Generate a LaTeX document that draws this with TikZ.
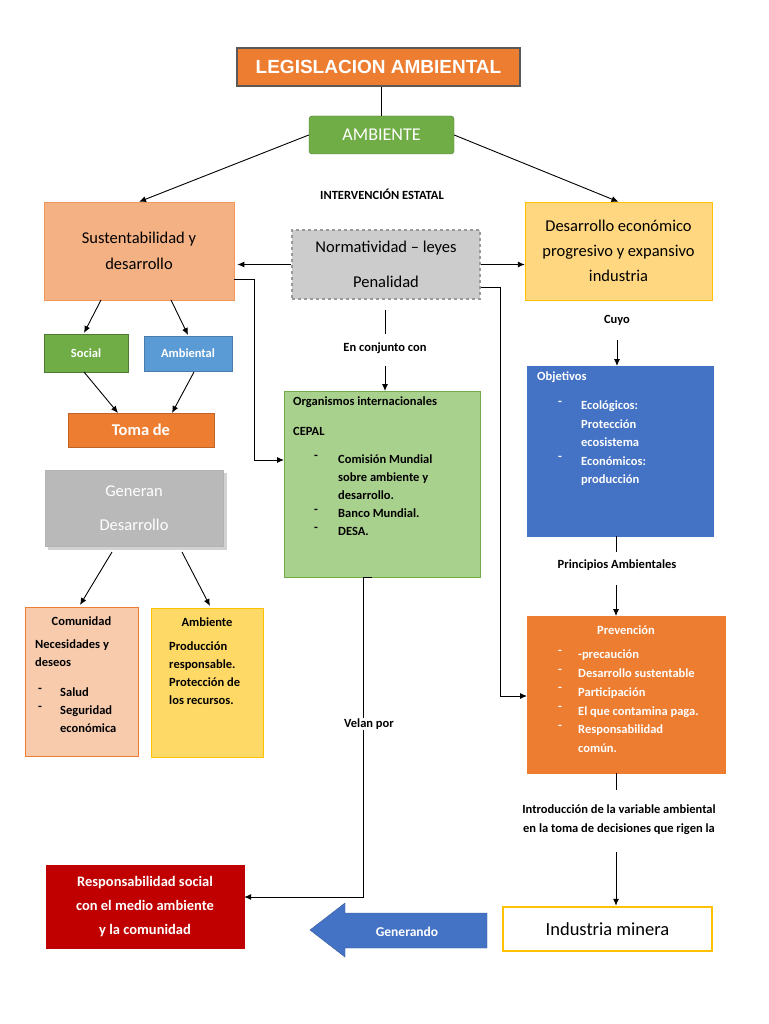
\documentclass[tikz,border=0pt]{standalone}
\usepackage{fontspec}
\setmainfont{Carlito}
\newfontfamily\arialf{Liberation Sans}
\usetikzlibrary{arrows.meta}
\definecolor{org}{HTML}{ED7D31}
\definecolor{grn}{HTML}{70AD47}
\definecolor{blu}{HTML}{4472C4}
\definecolor{lblu}{HTML}{5B9BD5}
\definecolor{salm}{HTML}{F4B183}
\definecolor{lsalm}{HTML}{F8CBAD}
\definecolor{ylw}{HTML}{FFD966}
\definecolor{lylw}{HTML}{FFD780}
\definecolor{gold}{HTML}{FFC000}
\definecolor{lgrn}{HTML}{A9D18E}
\definecolor{red}{HTML}{C00000}
\begin{document}
\begin{tikzpicture}[x=1pt,y=-1pt,
  box/.style={draw,inner sep=0pt},
  arr/.style={-{Latex[length=7pt,width=6pt]},line width=0.9pt},
  ln/.style={line width=0.9pt},
  lab/.style={font=\fontsize{12.5}{14}\selectfont\bfseries,fill=white,inner sep=1pt}]
\useasboundingbox[fill=white] (0,0) rectangle (768,1024);
% title
\node[box,fill=org,draw=gray!70!black,line width=1.2pt,minimum width=283pt,minimum height=38pt,text=white,font=\fontsize{19}{22}\selectfont\bfseries\arialf] (t) at (378.5,67) {LEGISLACION AMBIENTAL};
\node[box,fill=grn,draw=grn!70!black,rounded corners=3pt,minimum width=145pt,minimum height=38pt,text=white,font=\fontsize{18}{20}\selectfont] (amb) at (381.5,135) {AMBIENTE};
\draw[ln] (t.south -| amb.north) -- (amb.north);
\node[box,fill=salm,draw=org!80,minimum width=190pt,minimum height=98pt,align=center,font=\fontsize{16.5}{26}\selectfont] (sus) at (139,251) {Sustentabilidad y\\desarrollo};
\node[box,fill=lylw,draw=gold,minimum width=187pt,minimum height=98pt,align=center,font=\fontsize{16.5}{25}\selectfont] (des) at (618.5,251) {Desarrollo económico\\progresivo y expansivo\\industria};
\node[box,fill=gray!40,draw=gray!80,dashed,line width=1.2pt,minimum width=188pt,minimum height=69pt,align=center,font=\fontsize{16.5}{35}\selectfont] (nor) at (386,264.5) {Normatividad – leyes\\Penalidad};
\draw[arr] (amb.west) -- (sus.north);
\draw[arr] (amb.east) -- (des.north);
\node[font=\fontsize{12.5}{14}\selectfont\bfseries] at (382,194) {INTERVENCIÓN ESTATAL};
\draw[arr] (nor.west) -- ++(-54,0);
\draw[arr] (nor.east) -- (des.west |- nor.east);
% left branch
\node[box,fill=grn,draw=grn!70!black,minimum width=84pt,minimum height=38pt,text=white,font=\fontsize{12.5}{14}\selectfont\bfseries] (soc) at (86,353) {Social};
\node[box,fill=lblu,draw=lblu!80!black,minimum width=88pt,minimum height=35pt,text=white,font=\fontsize{12.5}{14}\selectfont\bfseries] (am2) at (188,353.5) {Ambiental};
\node[box,fill=org,draw=org!80!black,minimum width=146pt,minimum height=34pt,text=white,font=\fontsize{16.5}{18}\selectfont\bfseries] (tom) at (141,430) {Toma de};
\draw[arr] (101,300) -- (84,333);
\draw[arr] (171,300) -- (188,335);
\draw[arr] (84,372) -- (118,413);
\draw[arr] (194,372) -- (172,413);
\fill[gray!35] (48,473) rectangle (227,550);
\node[box,fill=gray!55,draw=gray!60,minimum width=178pt,minimum height=76pt,align=center,text=white,font=\fontsize{16.5}{34}\selectfont] (gen) at (134,508) {Generan\\Desarrollo};
\node[box,fill=lsalm,draw=org,minimum width=113pt,minimum height=149pt,anchor=north west] (com) at (25,607) {};
\node[anchor=north,font=\fontsize{12.5}{14}\selectfont\bfseries] at (81.5,613) {Comunidad};
\node[anchor=north west,align=left,font=\fontsize{12.5}{18}\selectfont\bfseries,inner sep=0pt] at (35,640) {Necesidades y\\deseos};
\node[anchor=north west,align=left,font=\fontsize{12.5}{18}\selectfont\bfseries,inner sep=0pt] at (38,688) {-\\-\\\phantom{-}};
\node[anchor=north west,align=left,font=\fontsize{12.5}{18}\selectfont\bfseries,inner sep=0pt] at (60,688) {Salud\\Seguridad\\económica};
\node[box,fill=ylw,draw=gold,minimum width=112pt,minimum height=149pt,anchor=north west] (am3) at (151,608) {};
\node[anchor=north,font=\fontsize{12.5}{14}\selectfont\bfseries] at (207,614) {Ambiente};
\node[anchor=north west,align=left,font=\fontsize{12.5}{18}\selectfont\bfseries,inner sep=0pt] at (169,642) {Producción\\responsable.\\Protección de\\los recursos.};
\draw[arr] (112,552) -- (80,605);
\draw[arr] (182,552) -- (210,606);
% centre
\node[box,fill=lgrn,draw=grn,minimum width=196pt,minimum height=186pt,anchor=north west] (orgs) at (284,391) {};
\node[anchor=north west,align=left,font=\fontsize{12.5}{14}\selectfont\bfseries,inner sep=0pt] at (293,397) {Organismos internacionales};
\node[anchor=north west,font=\fontsize{12.5}{14}\selectfont\bfseries,inner sep=0pt] at (293,427) {CEPAL};
\node[anchor=north west,align=left,font=\fontsize{12.5}{18}\selectfont\bfseries,inner sep=0pt] at (314,455) {-\\\phantom{-}\\\phantom{-}\\-\\-};
\node[anchor=north west,align=left,font=\fontsize{12.5}{18}\selectfont\bfseries,inner sep=0pt] at (338,455) {Comisión Mundial\\sobre ambiente y\\desarrollo.\\Banco Mundial.\\DESA.};
\draw[ln] (385,310) -- (385,334);
\node[font=\fontsize{12.5}{14}\selectfont\bfseries] at (385,348) {En conjunto con};
\draw[arr] (385,366) -- (orgs.north -| 385,0);
\draw[arr] (sus.east |- 0,279) -- (254,279) -- (254,460) -- (orgs.west |- 0,460);
\node[box,fill=red,draw=red,minimum width=198pt,minimum height=83pt,align=center,text=white,font=\fontsize{14.5}{24}\selectfont\bfseries] (res) at (145,906.5) {Responsabilidad social\\con el medio ambiente\\y la comunidad};
\draw[arr] (372,577) -- (363,577) -- (363,897) -- (res.east |- 0,897);
\node[lab] at (369,724) {Velan por};
% right column
\node[font=\fontsize{12.5}{14}\selectfont\bfseries] at (617,320) {Cuyo};
\node[box,fill=blu,draw=blu,minimum width=186pt,minimum height=170pt,anchor=north west] (obj) at (527,366) {};
\draw[arr] (617,340) -- (obj.north -| 617,0);
\node[anchor=north west,text=white,font=\fontsize{12.5}{14}\selectfont\bfseries,inner sep=0pt] at (537,372) {Objetivos};
\node[anchor=north west,align=left,text=white,font=\fontsize{12.5}{18.5}\selectfont\bfseries,inner sep=0pt] at (558,401) {-\\\phantom{-}\\\phantom{-}\\-};
\node[anchor=north west,align=left,text=white,font=\fontsize{12.5}{18.5}\selectfont\bfseries,inner sep=0pt] at (581,401) {Ecológicos:\\Protección\\ecosistema\\Económicos:\\producción};
\draw[ln] (616,536) -- (616,552);
\node[font=\fontsize{12.5}{14}\selectfont\bfseries] at (617,565) {Principios Ambientales};
\node[box,fill=org,draw=org,minimum width=198pt,minimum height=157pt,anchor=north west] (pre) at (527,616) {};
\draw[arr] (616,585) -- (pre.north -| 616,0);
\node[anchor=north,text=white,font=\fontsize{12.5}{14}\selectfont\bfseries] at (626,622) {Prevención};
\node[anchor=north west,align=left,text=white,font=\fontsize{12.5}{18.7}\selectfont\bfseries,inner sep=0pt] at (558,650) {-\\-\\-\\-\\-};
\node[anchor=north west,align=left,text=white,font=\fontsize{12.5}{18.7}\selectfont\bfseries,inner sep=0pt] at (578,650) {-precaución\\Desarrollo sustentable\\Participación\\El que contamina paga.\\Responsabilidad\\común.};
\draw[arr] (nor.east |- 0,287) -- (500,287) -- (500,696) -- (pre.west |- 0,696);
\draw[ln] (616,773) -- (616,790);
\node[align=center,font=\fontsize{12.5}{19}\selectfont\bfseries] at (619,819.5) {Introducción de la variable ambiental\\en la toma de decisiones que rigen la};
\node[box,fill=white,draw=gold,line width=2.5pt,minimum width=209pt,minimum height=44pt,font=\fontsize{18.5}{20}\selectfont] (ind) at (607.5,929) {Industria minera};
\draw[arr] (616,852) -- (ind.north -| 616,0);
\filldraw[fill=blu,draw=blu!80!black] (310,930) -- (345,903) -- (345,913) -- (487,913) -- (487,948) -- (345,948) -- (345,957) -- cycle;
\node[text=white,font=\fontsize{13.5}{15}\selectfont\bfseries] at (407,932) {Generando};
\end{tikzpicture}
\end{document}
